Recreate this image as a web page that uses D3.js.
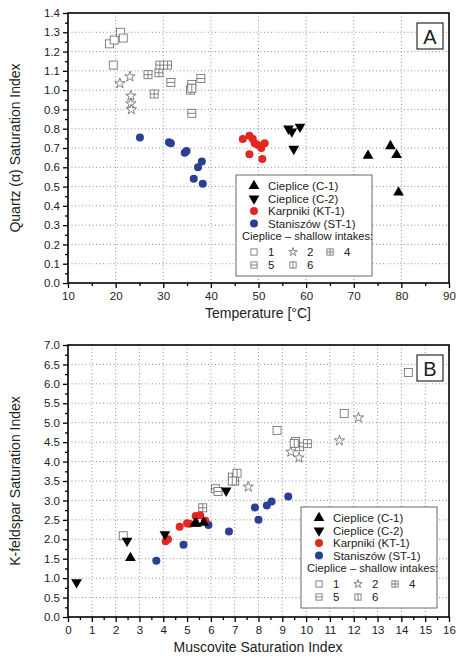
<!DOCTYPE html>
<html><head><meta charset="utf-8">
<script src="https://cdn.jsdelivr.net/npm/d3@7"></script>
<style>body{margin:0;background:#fff}text{font-family:"Liberation Sans",Arial,sans-serif}</style>
</head><body><svg id="c" width="474" height="663"></svg>
<script>
// panel A: temperature vs quartz SI
var aC1 = [[73.0,0.66],[77.7,0.71],[79.0,0.664],[79.4,0.47]];
var aC2 = [[56.3,0.80],[57.0,0.785],[58.7,0.81],[57.4,0.695]];
var aKT = [[46.7,0.747],[48.1,0.764],[48.8,0.747],[49.2,0.724],[49.9,0.715],[50.6,0.70],[51.3,0.724],[48.1,0.667],[50.8,0.643]];
var aST = [[25.1,0.755],[31.2,0.73],[31.6,0.725],[34.5,0.675],[34.9,0.685],[37.3,0.60],[38.1,0.63],[36.4,0.54],[38.3,0.515]];
var aS1 = [[18.7,1.24],[19.7,1.26],[21.0,1.30],[21.6,1.27],[19.5,1.13]];
var aS2 = [[20.9,1.035],[23.0,1.07],[23.2,0.97],[23.2,0.93],[23.3,0.90]];
var aS4 = [[26.8,1.08],[29.1,1.09],[29.3,1.13],[30.9,1.13],[28.1,0.98]];
var aS5 = [[31.6,1.04],[36.0,1.03],[37.9,1.06],[36.0,0.88]];
var aS6 = [[35.7,1.00],[36.0,1.01]];
// panel B: muscovite SI vs K-feldspar SI
var bC1 = [[2.62,1.52],[5.33,2.41],[5.7,2.43],[5.4,2.40]];
var bC2 = [[0.36,0.89],[2.48,1.96],[4.07,2.13],[6.64,3.25]];
var bKT = [[4.69,2.32],[5.0,2.41],[5.36,2.60],[5.55,2.62],[5.77,2.48],[4.1,1.95],[4.2,2.0],[5.1,2.4]];
var bST = [[3.71,1.45],[4.85,1.86],[5.9,2.37],[6.76,2.2],[7.85,2.82],[8.0,2.5],[8.35,2.87],[8.55,2.97],[9.25,3.1]];
var bS1 = [[2.32,2.09],[8.78,4.80],[11.6,5.24],[14.29,6.29]];
var bS2 = [[9.36,4.25],[9.7,4.1],[11.4,4.54],[12.2,5.13],[7.57,3.35]];
var bS4 = [[10.05,4.46],[5.66,2.81],[9.73,4.38]];
var bS5 = [[9.55,4.52],[6.2,3.3],[6.3,3.23],[7.0,3.5]];
var bS6 = [[6.9,3.6],[7.1,3.7],[6.9,3.5],[9.5,4.47]];

var svg = d3.select("#c");

function marker(g, type, x, y, k) {
  k = k || 1;
  var s = 4.5 * k;
  if (type === "up") g.append("path").attr("d", d3.symbol(d3.symbolTriangle, 50)()).attr("transform","translate("+x+","+y+")").attr("fill","#000");
  else if (type === "down") g.append("path").attr("d", d3.symbol(d3.symbolTriangle, 50)()).attr("transform","translate("+x+","+y+") rotate(180)").attr("fill","#000");
  else if (type === "red" || type === "blue") g.append("circle").attr("cx",x).attr("cy",y).attr("r",4).attr("fill", type === "red" ? "#e3261f" : "#2b3f94");
  else if (type === "star") g.append("path").attr("d", d3.symbol(d3.symbolStar, 34*k*k)()).attr("transform","translate("+x+","+y+")").attr("fill","#fff").attr("stroke","#666").attr("stroke-width",0.8);
  else {
    g.append("rect").attr("x",x-s+0.5).attr("y",y-s+0.5).attr("width",2*s-1).attr("height",2*s-1).attr("fill","#fff").attr("stroke","#666").attr("stroke-width",0.8);
    if (type === "s4" || type === "s5") g.append("line").attr("x1",x-s+0.5).attr("x2",x+s-0.5).attr("y1",y).attr("y2",y).attr("stroke","#666").attr("stroke-width",0.8);
    if (type === "s4" || type === "s6") g.append("line").attr("y1",y-s+0.5).attr("y2",y+s-0.5).attr("x1",x).attr("x2",x).attr("stroke","#666").attr("stroke-width",0.8);
  }
}

function panel(o) {
  var x = d3.scaleLinear().domain(o.xd).range([68, 449]);
  var y = d3.scaleLinear().domain(o.yd).range([o.bottom, o.top]);
  var g = svg.append("g");
  // grid
  g.selectAll(".gx").data(o.xg).enter().append("line").attr("x1",x).attr("x2",x).attr("y1",o.top).attr("y2",o.bottom)
    .attr("stroke","#777").attr("stroke-width",0.8).attr("stroke-dasharray","1,2.5");
  g.selectAll(".gy").data(o.yg).enter().append("line").attr("y1",y).attr("y2",y).attr("x1",68).attr("x2",449)
    .attr("stroke","#777").attr("stroke-width",0.8).attr("stroke-dasharray","1,2.5");
  // axes
  g.append("g").attr("transform","translate(0,"+o.bottom+")").call(d3.axisBottom(x).tickValues(o.xt).tickFormat(o.xf).tickSize(5).tickPadding(4));
  g.append("g").attr("transform","translate(0,"+o.bottom+")").call(d3.axisBottom(x).tickValues(o.xm).tickFormat("").tickSize(3));
  g.append("g").attr("transform","translate(68,0)").call(d3.axisLeft(y).tickValues(o.yt).tickFormat(d3.format(".1f")).tickSize(5).tickPadding(3));
  g.append("g").attr("transform","translate(68,0)").call(d3.axisLeft(y).tickValues(o.ym).tickFormat("").tickSize(3));
  g.selectAll(".domain").remove();
  g.selectAll(".tick text").attr("font-size",11.5).attr("fill","#222").attr("font-family","Liberation Sans, Arial");
  g.selectAll(".tick line").attr("stroke","#000").attr("stroke-width",1.3);
  g.append("rect").attr("x",68).attr("y",o.top).attr("width",381).attr("height",o.bottom-o.top).attr("fill","none").attr("stroke","#000").attr("stroke-width",1.6);
  g.append("text").attr("x",258).attr("y",o.bottom+35).attr("text-anchor","middle").attr("font-size",14).attr("fill","#222").text(o.xl);
  g.append("text").attr("transform","translate(20,"+((o.top+o.bottom)/2)+") rotate(-90)").attr("text-anchor","middle").attr("font-size",14).attr("fill","#222").text(o.yl);
  // data
  o.series.forEach(function(s){ s.d.forEach(function(p){ marker(g, s.t, x(p[0]), y(p[1])); }); });
  // panel letter
  g.append("rect").attr("x",417).attr("y",o.top+10).attr("width",26).attr("height",26).attr("fill","#fff").attr("stroke","#000").attr("stroke-width",1);
  g.append("text").attr("x",430).attr("y",o.top+31).attr("text-anchor","middle").attr("font-size",20).attr("fill","#222").text(o.letter);
  // legend
  var L = g.append("g").attr("transform","translate("+o.lx+","+o.ly+")");
  L.append("rect").attr("width",136).attr("height",101).attr("fill","#fff").attr("stroke","#444").attr("stroke-width",0.8);
  var names = [["up","Cieplice (C-1)"],["down","Cieplice (C-2)"],["red","Karpniki (KT-1)"],["blue","Staniszów (ST-1)"]];
  names.forEach(function(n,i){
    marker(L, n[0], 18, 11+i*12.5);
    L.append("text").attr("x",32).attr("y",15+i*12.5).attr("font-size",11.5).attr("fill","#222").text(n[1]);
  });
  L.append("text").attr("x",6).attr("y",65).attr("font-size",11.2).attr("fill","#222").text("Cieplice – shallow intakes:");
  [["s1","1",18,77],["star","2",57,77],["s4","4",94,77],["s5","5",18,90],["s6","6",57,90]].forEach(function(m){
    marker(L, m[0], m[2], m[3], 0.8);
    L.append("text").attr("x",m[2]+14).attr("y",m[3]+4).attr("font-size",11.5).attr("fill","#222").text(m[1]);
  });
}

var ticksA = d3.range(0, 1.41, 0.1).map(function(v){return +v.toFixed(1);});
panel({xd:[10,90], yd:[0,1.4], top:13, bottom:283,
  xt:d3.range(10,91,10), xm:d3.range(15,90,10), xg:d3.range(20,90,10), xf:d3.format("d"),
  yt:ticksA, ym:ticksA.slice(0,-1).map(function(v){return v+0.05;}), yg:ticksA.slice(1,-1),
  xl:"Temperature [°C]", yl:"Quartz (α) Saturation Index", letter:"A", lx:236, ly:175,
  series:[{t:"s1",d:aS1},{t:"star",d:aS2},{t:"s4",d:aS4},{t:"s5",d:aS5},{t:"s6",d:aS6},
          {t:"blue",d:aST},{t:"red",d:aKT},{t:"up",d:aC1},{t:"down",d:aC2}]});

var ticksB = d3.range(0, 7.01, 0.5).map(function(v){return +v.toFixed(1);});
panel({xd:[0,16], yd:[0,7], top:345, bottom:617,
  xt:d3.range(0,17,1), xm:d3.range(0.5,16,1), xg:d3.range(1,16,1), xf:d3.format("d"),
  yt:ticksB, ym:ticksB.slice(0,-1).map(function(v){return v+0.25;}), yg:ticksB.slice(1,-1),
  xl:"Muscovite Saturation Index", yl:"K-feldspar Saturation Index", letter:"B", lx:301, ly:507,
  series:[{t:"s1",d:bS1},{t:"star",d:bS2},{t:"s4",d:bS4},{t:"s5",d:bS5},{t:"s6",d:bS6},
          {t:"blue",d:bST},{t:"red",d:bKT},{t:"up",d:bC1},{t:"down",d:bC2}]});
</script></body></html>
